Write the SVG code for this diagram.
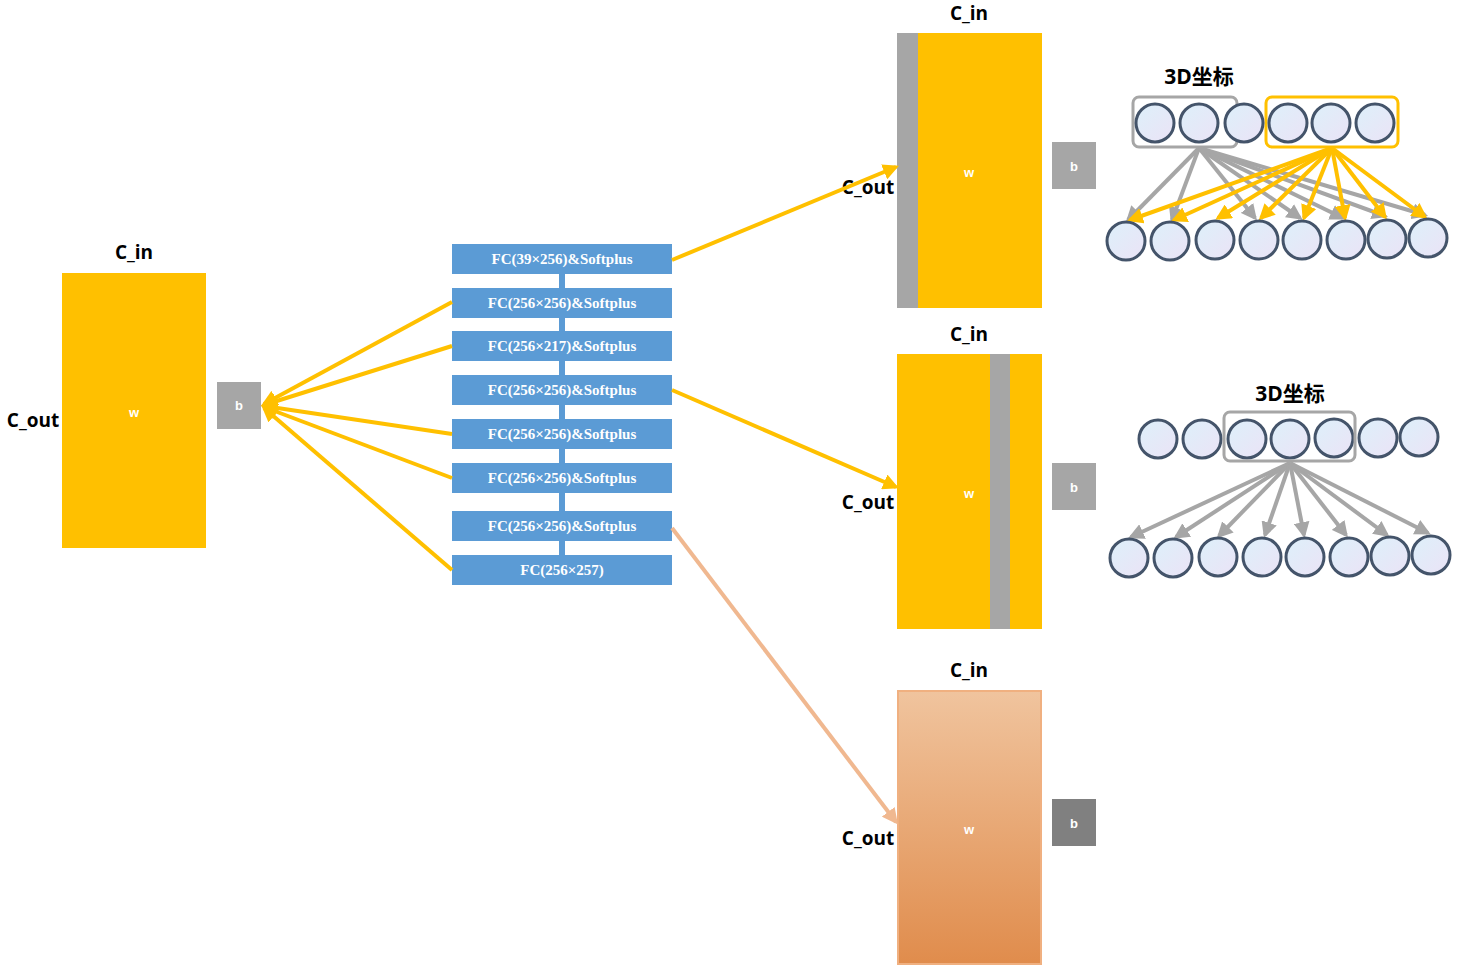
<svg xmlns="http://www.w3.org/2000/svg" width="1459" height="973" viewBox="0 0 1459 973">
<defs>
<style>
.fc{fill:#5b9bd5}
.fct{font-family:"Liberation Serif",serif;font-weight:bold;font-size:15px;fill:#fff;text-anchor:middle}
.lab{font-family:"Open Sans","Noto Sans CJK SC",sans-serif;font-weight:bold;font-size:19px;fill:#000;text-anchor:middle}
.w{font-family:"Liberation Sans",sans-serif;font-weight:bold;font-size:13px;fill:#fff;text-anchor:middle}
.bb{fill:#a6a6a6}
.y{stroke:#ffc000;stroke-width:4;fill:none}
.g{stroke:#a6a6a6;stroke-width:4;fill:none}
.nc{fill:url(#cg);stroke:#44546a;stroke-width:3}
</style>
<linearGradient id="cg" x1="0" y1="0" x2="1" y2="1"><stop offset="0" stop-color="#ddf0fa"/><stop offset="1" stop-color="#ebe3f6"/></linearGradient>
<linearGradient id="og" x1="0" y1="0" x2="0" y2="1"><stop offset="0" stop-color="#f0c49e"/><stop offset="1" stop-color="#e08c4c"/></linearGradient>
<marker id="ay" viewBox="0 0 10 10" refX="8" refY="5" markerWidth="4" markerHeight="4" orient="auto"><path d="M0,0L10,5L0,10z" fill="#ffc000"/></marker>
<marker id="ag" viewBox="0 0 10 10" refX="8" refY="5" markerWidth="4" markerHeight="4" orient="auto"><path d="M0,0L10,5L0,10z" fill="#a6a6a6"/></marker>
<marker id="ap" viewBox="0 0 10 10" refX="8" refY="5" markerWidth="4" markerHeight="4" orient="auto"><path d="M0,0L10,5L0,10z" fill="#f0b890"/></marker>
</defs>

<g id="left-matrix">
<rect x="62" y="273" width="144" height="275" fill="#ffc000"/>
<text class="w" x="134" y="417">w</text>
<text class="lab" x="134" y="259">C_in</text>
<text class="lab" x="33" y="427">C_out</text>
</g>
<g id="left-b"><rect class="bb" x="217" y="382" width="44" height="47"/><text class="w" x="239" y="410">b</text></g>

<g id="mlp">
<rect class="fc" x="559" y="270" width="6" height="300"/>
<rect class="fc" x="452" y="244" width="220" height="30"/><text class="fct" x="562" y="264">FC(39×256)&amp;Softplus</text>
<rect class="fc" x="452" y="288" width="220" height="30"/><text class="fct" x="562" y="308">FC(256×256)&amp;Softplus</text>
<rect class="fc" x="452" y="331" width="220" height="30"/><text class="fct" x="562" y="351">FC(256×217)&amp;Softplus</text>
<rect class="fc" x="452" y="375" width="220" height="30"/><text class="fct" x="562" y="395">FC(256×256)&amp;Softplus</text>
<rect class="fc" x="452" y="419" width="220" height="30"/><text class="fct" x="562" y="439">FC(256×256)&amp;Softplus</text>
<rect class="fc" x="452" y="463" width="220" height="30"/><text class="fct" x="562" y="483">FC(256×256)&amp;Softplus</text>
<rect class="fc" x="452" y="511" width="220" height="30"/><text class="fct" x="562" y="531">FC(256×256)&amp;Softplus</text>
<rect class="fc" x="452" y="555" width="220" height="30"/><text class="fct" x="562" y="575">FC(256×257)</text>
</g>

<g id="m1">
<rect x="897" y="33" width="145" height="275" fill="#ffc000"/>
<rect x="897" y="33" width="21" height="275" fill="#a6a6a6"/>
<text class="w" x="969" y="177">w</text>
<text class="lab" x="969" y="20">C_in</text>
<text class="lab" x="868" y="194">C_out</text>
</g>
<g id="b1"><rect class="bb" x="1052" y="142" width="44" height="47"/><text class="w" x="1074" y="171">b</text></g>

<g id="m2">
<rect x="897" y="354" width="145" height="275" fill="#ffc000"/>
<rect x="990" y="354" width="20" height="275" fill="#a6a6a6"/>
<text class="w" x="969" y="498">w</text>
<text class="lab" x="969" y="341">C_in</text>
<text class="lab" x="868" y="509">C_out</text>
</g>
<g id="b2"><rect class="bb" x="1052" y="463" width="44" height="47"/><text class="w" x="1074" y="492">b</text></g>

<g id="m3">
<rect x="898" y="691" width="143" height="273" fill="url(#og)" stroke="#f0b080" stroke-width="2"/>
<text class="w" x="969" y="834">w</text>
<text class="lab" x="969" y="677">C_in</text>
<text class="lab" x="868" y="845">C_out</text>
</g>
<g id="b3"><rect x="1052" y="799" width="44" height="47" fill="#808080"/><text class="w" x="1074" y="828">b</text></g>

<g id="connectors">
<line class="y" x1="452" y1="302" x2="264" y2="404" marker-end="url(#ay)"/>
<line class="y" x1="452" y1="346" x2="264" y2="405" marker-end="url(#ay)"/>
<line class="y" x1="452" y1="434" x2="264" y2="406" marker-end="url(#ay)"/>
<line class="y" x1="452" y1="478" x2="264" y2="407" marker-end="url(#ay)"/>
<line class="y" x1="452" y1="570" x2="264" y2="408" marker-end="url(#ay)"/>
<line class="y" x1="672" y1="260" x2="896" y2="167" marker-end="url(#ay)"/>
<line class="y" x1="672" y1="390" x2="896" y2="487" marker-end="url(#ay)"/>
<line stroke="#f0b890" stroke-width="4" x1="672" y1="528" x2="896" y2="822" marker-end="url(#ap)"/>
</g>

<g id="net1">
<text class="lab" x="1199" y="84" style="font-size:21px">3D坐标</text>
<rect x="1133" y="97" width="104" height="50" rx="6" fill="none" stroke="#a6a6a6" stroke-width="3"/>
<rect x="1266" y="97" width="132" height="50" rx="6" fill="none" stroke="#ffc000" stroke-width="3"/>
<g class="g" stroke-width="3.5">
<line x1="1199" y1="148" x2="1128" y2="220" marker-end="url(#ag)"/>
<line x1="1199" y1="148" x2="1172" y2="220" marker-end="url(#ag)"/>
<line x1="1199" y1="148" x2="1255" y2="218" marker-end="url(#ag)"/>
<line x1="1199" y1="148" x2="1300" y2="218" marker-end="url(#ag)"/>
<line x1="1199" y1="148" x2="1343" y2="218" marker-end="url(#ag)"/>
<line x1="1199" y1="148" x2="1385" y2="216" marker-end="url(#ag)"/>
<line x1="1199" y1="148" x2="1425" y2="215" marker-end="url(#ag)"/>
</g>
<g class="y" stroke-width="3.5">
<line x1="1332" y1="148" x2="1130" y2="220" marker-end="url(#ay)"/>
<line x1="1332" y1="148" x2="1174" y2="220" marker-end="url(#ay)"/>
<line x1="1332" y1="148" x2="1218" y2="218" marker-end="url(#ay)"/>
<line x1="1332" y1="148" x2="1261" y2="218" marker-end="url(#ay)"/>
<line x1="1332" y1="148" x2="1304" y2="218" marker-end="url(#ay)"/>
<line x1="1332" y1="148" x2="1345" y2="218" marker-end="url(#ay)"/>
<line x1="1332" y1="148" x2="1385" y2="217" marker-end="url(#ay)"/>
<line x1="1332" y1="148" x2="1425" y2="217" marker-end="url(#ay)"/>
</g>
<circle class="nc" cx="1155" cy="123" r="19"/><circle class="nc" cx="1199" cy="123" r="19"/><circle class="nc" cx="1244" cy="123" r="19"/>
<circle class="nc" cx="1288" cy="123" r="19"/><circle class="nc" cx="1331" cy="123" r="19"/><circle class="nc" cx="1375" cy="123" r="19"/>
<circle class="nc" cx="1126" cy="241" r="19"/><circle class="nc" cx="1170" cy="241" r="19"/><circle class="nc" cx="1215" cy="240" r="19"/><circle class="nc" cx="1259" cy="240" r="19"/>
<circle class="nc" cx="1302" cy="240" r="19"/><circle class="nc" cx="1346" cy="240" r="19"/><circle class="nc" cx="1387" cy="239" r="19"/><circle class="nc" cx="1428" cy="238" r="19"/>
</g>

<g id="net2">
<text class="lab" x="1290" y="401" style="font-size:21px">3D坐标</text>
<circle class="nc" cx="1158" cy="439" r="19"/><circle class="nc" cx="1202" cy="439" r="19"/>
<circle class="nc" cx="1247" cy="439" r="19"/><circle class="nc" cx="1290" cy="439" r="19"/><circle class="nc" cx="1334" cy="438" r="19"/>
<circle class="nc" cx="1378" cy="438" r="19"/><circle class="nc" cx="1419" cy="437" r="19"/>
<rect x="1224" y="412" width="131" height="49" rx="6" fill="none" stroke="#a6a6a6" stroke-width="3"/>
<g class="g" stroke-width="3.5">
<line x1="1290" y1="463" x2="1131" y2="537" marker-end="url(#ag)"/>
<line x1="1290" y1="463" x2="1176" y2="537" marker-end="url(#ag)"/>
<line x1="1290" y1="463" x2="1219" y2="536" marker-end="url(#ag)"/>
<line x1="1290" y1="463" x2="1265" y2="535" marker-end="url(#ag)"/>
<line x1="1290" y1="463" x2="1304" y2="535" marker-end="url(#ag)"/>
<line x1="1290" y1="463" x2="1346" y2="535" marker-end="url(#ag)"/>
<line x1="1290" y1="463" x2="1387" y2="535" marker-end="url(#ag)"/>
<line x1="1290" y1="463" x2="1428" y2="533" marker-end="url(#ag)"/>
</g>
<circle class="nc" cx="1129" cy="558" r="19"/><circle class="nc" cx="1173" cy="558" r="19"/><circle class="nc" cx="1218" cy="557" r="19"/><circle class="nc" cx="1262" cy="557" r="19"/>
<circle class="nc" cx="1305" cy="557" r="19"/><circle class="nc" cx="1349" cy="557" r="19"/><circle class="nc" cx="1390" cy="556" r="19"/><circle class="nc" cx="1431" cy="555" r="19"/>
</g>
</svg>
